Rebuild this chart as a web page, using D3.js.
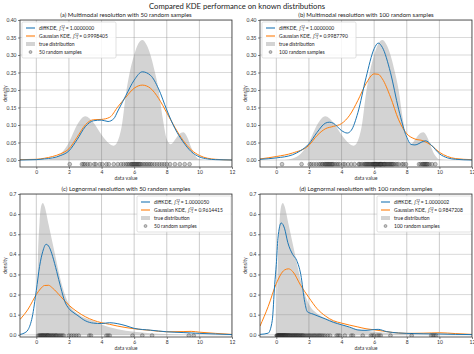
<!DOCTYPE html>
<html>
<head>
<meta charset="utf-8">
<script src="https://cdn.jsdelivr.net/npm/d3@7"></script>
<style>
  body { margin: 0; background: #fff; }
  svg { font-family: Lato, "DejaVu Sans", sans-serif; }
</style>
</head>
<body>
<div id="chart"></div>
<script>
// values, as [data value, density]

const trueMulti = [[-1,0],[0.5,0],[1,0.004],[1.5,0.018],[2,0.05],[2.5,0.1],[3,0.125],[3.5,0.107],[4,0.072],
  [4.5,0.046],[4.75,0.041],[5,0.055],[5.25,0.1],[5.5,0.19],[5.75,0.255],[6,0.3],[6.25,0.332],[6.5,0.343],
  [6.75,0.33],[7,0.3],[7.25,0.255],[7.5,0.2],[7.75,0.12],[8,0.06],[8.25,0.045],[8.5,0.058],[8.75,0.073],
  [9,0.079],[9.25,0.066],[9.5,0.036],[9.75,0.012],[10,0.002],[10.5,0],[12,0]];

const trueLognorm = [[0,0],[0.05,0.2],[0.1,0.38],[0.2,0.56],[0.3,0.64],[0.4,0.655],[0.5,0.64],[0.75,0.55],
  [1,0.455],[1.25,0.36],[1.5,0.27],[1.75,0.2],[2,0.152],[2.5,0.106],[3,0.083],[3.5,0.068],[4,0.051],
  [4.5,0.038],[5,0.028],[6,0.015],[7,0.008],[8,0.004],[9,0.002],[10,0.001],[12,0]];

const diffA = [[-1,0],[0,0.001],[0.5,0.003],[1,0.006],[1.5,0.013],[2,0.026],[2.5,0.058],[3,0.095],[3.5,0.112],
  [4,0.114],[4.4,0.11],[4.75,0.118],[5,0.14],[5.5,0.185],[6,0.228],[6.5,0.252],[7,0.242],[7.5,0.203],
  [8,0.143],[8.5,0.09],[9,0.052],[9.5,0.024],[10,0.009],[10.5,0.003],[11,0.001],[12,0]];
const gaussA = [[-1,0.001],[0,0.002],[0.5,0.005],[1,0.01],[1.5,0.018],[2,0.032],[2.5,0.065],[3,0.1],[3.5,0.115],
  [4,0.116],[4.5,0.122],[5,0.152],[5.5,0.18],[6,0.205],[6.5,0.214],[7,0.205],[7.5,0.176],[8,0.135],
  [8.5,0.093],[9,0.056],[9.5,0.029],[10,0.013],[10.5,0.005],[11,0.002],[12,0]];

const diffB = [[-1,0.002],[0,0.006],[1,0.015],[1.5,0.027],[2,0.046],[2.5,0.079],[3,0.105],[3.25,0.108],[3.5,0.105],
  [4,0.084],[4.35,0.077],[4.6,0.085],[5,0.135],[5.5,0.235],[6,0.318],[6.25,0.334],[6.5,0.322],[7,0.25],
  [7.5,0.145],[8,0.065],[8.25,0.045],[8.5,0.043],[9,0.053],[9.15,0.055],[9.5,0.043],[10,0.018],[10.5,0.006],
  [11,0.002],[12,0]];
const gaussB = [[-1,0.003],[0,0.01],[1,0.02],[2,0.042],[2.5,0.07],[3,0.089],[3.5,0.096],[4,0.104],[4.5,0.128],
  [5,0.17],[5.5,0.218],[6,0.246],[6.25,0.245],[6.5,0.232],[7,0.18],[7.5,0.115],[8,0.075],[8.5,0.06],
  [9,0.055],[9.5,0.042],[10,0.022],[10.5,0.01],[11,0.004],[12,0.001]];

const diffC = [[-1,0.002],[-0.75,0.008],[-0.5,0.026],[-0.25,0.088],[0,0.22],[0.2,0.34],[0.4,0.415],[0.6,0.45],
  [0.8,0.435],[1,0.39],[1.25,0.315],[1.5,0.235],[1.75,0.165],[2,0.13],[2.25,0.112],[2.5,0.098],[3,0.07],
  [3.5,0.058],[4,0.056],[4.5,0.06],[5,0.055],[5.5,0.045],[6,0.032],[7,0.023],[8,0.015],[9,0.011],
  [10,0.007],[11,0.004],[12,0.001]];
const gaussC = [[-1,0.076],[-0.5,0.128],[0,0.2],[0.25,0.228],[0.5,0.245],[0.75,0.246],[1,0.232],[1.5,0.19],
  [2,0.147],[2.5,0.115],[3,0.09],[3.5,0.072],[4,0.06],[4.5,0.052],[5,0.043],[6,0.03],[7,0.022],[8,0.015],
  [9,0.016],[9.5,0.017],[10,0.013],[11,0.007],[12,0.002]];

const diffD = [[-1,0.002],[-0.5,0.008],[-0.25,0.07],[-0.1,0.25],[0,0.35],[0.1,0.48],[0.3,0.556],[0.5,0.53],
  [0.7,0.46],[1,0.4],[1.25,0.37],[1.5,0.3],[1.75,0.16],[1.9,0.115],[2.25,0.103],[2.5,0.095],[3,0.079],
  [3.5,0.062],[4,0.05],[4.5,0.038],[5,0.024],[5.5,0.022],[6,0.026],[6.25,0.027],[6.75,0.016],[7.5,0.009],
  [8,0.007],[9,0.005],[10,0.004],[11,0.002],[12,0.001]];
const gaussD = [[-1,0.043],[-0.5,0.14],[0,0.255],[0.5,0.322],[0.75,0.328],[1,0.315],[1.5,0.245],[2,0.185],
  [2.5,0.13],[3,0.094],[3.5,0.07],[4,0.058],[4.5,0.048],[5,0.039],[5.5,0.03],[6,0.025],[7,0.013],[8,0.007],
  [9,0.008],[10,0.01],[11,0.006],[12,0.002]];

// random samples shown as a rug under each plot
const samplesA = [2.05,2.8,2.9,3.0,3.15,3.3,3.55,3.65,3.9,4.05,4.3,4.45,4.75,5.0,5.2,5.35,5.5,5.6,5.7,5.8,
  5.85,5.9,5.95,6.0,6.05,6.1,6.15,6.2,6.25,6.3,6.35,6.4,6.5,6.6,6.7,6.8,6.9,7.0,7.1,7.25,7.4,7.55,7.7,
  7.85,8.0,8.2,8.5,8.8,9.1,9.4];
const samplesB = [0.35,1.55,2.05,2.15,2.3,2.45,2.6,2.7,2.8,2.85,2.95,3.0,3.05,3.1,3.15,3.2,3.25,3.3,3.35,3.4,
  3.45,3.5,3.6,3.7,3.8,3.9,4.1,4.2,4.4,4.6,4.8,5.05,5.1,5.2,5.3,5.4,5.45,5.5,5.55,5.6,5.65,5.7,5.75,5.8,
  5.85,5.9,5.93,5.96,6.0,6.03,6.06,6.08,6.1,6.13,6.16,6.2,6.23,6.26,6.3,6.33,6.36,6.38,6.4,6.43,6.46,6.5,
  6.55,6.6,6.62,6.65,6.7,6.75,6.8,6.85,6.9,6.95,7.0,7.05,7.1,7.15,7.2,7.3,7.4,7.5,7.7,7.8,7.95,8.75,8.85,
  8.95,9.0,9.05,9.1,9.15,9.2,9.25,9.3,9.4,9.55,9.75];
const samplesC = [0.12,0.18,0.22,0.26,0.3,0.33,0.36,0.4,0.43,0.46,0.5,0.53,0.57,0.6,0.64,0.68,0.7,0.72,0.76,
  0.8,0.85,0.9,0.95,1.0,1.05,1.1,1.17,1.2,1.24,1.3,1.38,1.45,1.52,1.6,1.68,2.0,2.15,2.3,2.45,2.6,3.25,
  3.35,4.3,4.4,4.5,5.9,6.5,7.1,9.35,9.65];
const samplesD = [0.02,0.05,0.08,0.1,0.12,0.14,0.16,0.18,0.2,0.22,0.24,0.26,0.28,0.3,0.32,0.34,0.36,0.38,
  0.4,0.42,0.44,0.46,0.48,0.5,0.52,0.54,0.56,0.58,0.6,0.62,0.65,0.68,0.7,0.72,0.75,0.78,0.8,0.83,0.86,
  0.9,0.93,0.96,1.0,1.03,1.06,1.1,1.13,1.16,1.2,1.23,1.26,1.3,1.33,1.36,1.4,1.44,1.48,1.52,1.56,1.6,
  1.64,1.68,1.75,1.82,1.9,1.98,2.05,2.12,2.2,2.28,2.35,2.42,2.5,2.58,2.65,2.72,2.8,2.89,3.0,3.15,3.3,
  3.7,3.8,3.9,4.2,4.6,4.7,5.3,5.8,5.9,6.0,6.2,6.3,6.4,7.0,8.3,9.5,9.6,9.7,9.8];

const xTicks = [0, 2, 4, 6, 8, 10, 12];
const yTicksMulti = [0, 0.05, 0.1, 0.15, 0.2, 0.25, 0.3, 0.35, 0.4];
const yTicksLog = [0, 0.1, 0.2, 0.3, 0.4, 0.5, 0.6, 0.7];

const panels = [
  {title: "(a) Multimodal resolution with 50 random samples", truth: trueMulti, diff: diffA, gauss: gaussA,
   samples: samplesA, n: 50, diffInt: "1.0000000", gaussInt: "0.9998405", yTicks: yTicksMulti, fmt: ".2f",
   yDom: [-0.02, 0.40], rugY: -0.012, box: [20, 232, 20, 167], legend: "left"},
  {title: "(b) Multimodal resolution with 100 random samples", truth: trueMulti, diff: diffB, gauss: gaussB,
   samples: samplesB, n: 100, diffInt: "1.0000000", gaussInt: "0.9987790", yTicks: yTicksMulti, fmt: ".2f",
   yDom: [-0.02, 0.40], rugY: -0.012, box: [260, 472, 20, 167], legend: "left"},
  {title: "(c) Lognormal resolution with 50 random samples", truth: trueLognorm, diff: diffC, gauss: gaussC,
   samples: samplesC, n: 50, diffInt: "1.0000050", gaussInt: "0.9614415", yTicks: yTicksLog, fmt: ".1f",
   yDom: [-0.011, 0.70], rugY: -0.004, box: [20, 232, 194, 337], legend: "right"},
  {title: "(d) Lognormal resolution with 100 random samples", truth: trueLognorm, diff: diffD, gauss: gaussD,
   samples: samplesD, n: 100, diffInt: "1.0000002", gaussInt: "0.9847208", yTicks: yTicksLog, fmt: ".1f",
   yDom: [-0.011, 0.70], rugY: -0.004, box: [260, 472, 194, 337], legend: "right"}
];

const blue = "#1f77b4";
const orange = "#ff7f0e";
const greyFill = "#d3d3d3";

let svg = d3.select("#chart").append("svg")
  .attr("width", 474).attr("height", 354);

svg.append("text")
  .attr("x", 237).attr("y", 9)
  .attr("text-anchor", "middle")
  .attr("font-size", 8.4)
  .attr("textLength", 176).attr("lengthAdjust", "spacingAndGlyphs")
  .attr("fill", "#222")
  .text("Compared KDE performance on known distributions");

panels.forEach(function(p, i) {
  let [left, right, top, bottom] = p.box;
  let xScale = d3.scaleLinear().domain([-1, 12]).range([left, right]);
  let yScale = d3.scaleLinear().domain(p.yDom).range([bottom, top]);

  let clipId = "clip" + i;
  svg.append("clipPath").attr("id", clipId)
    .append("rect").attr("x", left).attr("y", top)
    .attr("width", right - left).attr("height", bottom - top);

  let g = svg.append("g");
  let plot = g.append("g").attr("clip-path", `url(#${clipId})`);

  // true distribution as a filled area
  let area = d3.area()
    .x(d => xScale(d[0]))
    .y0(yScale(0))
    .y1(d => yScale(d[1]))
    .curve(d3.curveMonotoneX);
  plot.append("path").datum(p.truth)
    .attr("d", area)
    .attr("fill", greyFill);

  // grid lines
  plot.append("g").selectAll("line.gx").data(xTicks).enter().append("line")
    .attr("x1", d => xScale(d)).attr("x2", d => xScale(d))
    .attr("y1", top).attr("y2", bottom)
    .attr("stroke", "#7a7a7a").attr("stroke-opacity", 0.55).attr("stroke-width", 0.7);
  plot.append("g").selectAll("line.gy").data(p.yTicks).enter().append("line")
    .attr("x1", left).attr("x2", right)
    .attr("y1", d => yScale(d)).attr("y2", d => yScale(d))
    .attr("stroke", "#8a8a8a").attr("stroke-opacity", 0.45).attr("stroke-width", 0.7);

  let line = d3.line()
    .x(d => xScale(d[0]))
    .y(d => yScale(d[1]))
    .curve(d3.curveMonotoneX);
  plot.append("path").datum(p.gauss)
    .attr("d", line).attr("fill", "none")
    .attr("stroke", orange).attr("stroke-width", 1);
  plot.append("path").datum(p.diff)
    .attr("d", line).attr("fill", "none")
    .attr("stroke", blue).attr("stroke-width", 1);

  // samples
  plot.append("g").selectAll("circle").data(p.samples).enter().append("circle")
    .attr("cx", d => xScale(d))
    .attr("cy", yScale(p.rugY))
    .attr("r", 1.9)
    .attr("fill", "#666").attr("fill-opacity", 0.35)
    .attr("stroke", "#111").attr("stroke-opacity", 0.55).attr("stroke-width", 0.5);

  // frame
  g.append("rect")
    .attr("x", left).attr("y", top)
    .attr("width", right - left).attr("height", bottom - top)
    .attr("fill", "none").attr("stroke", "#333").attr("stroke-width", 0.8);

  // axes
  let xAxis = d3.axisBottom(xScale).tickValues(xTicks).tickSize(2).tickPadding(1.5);
  let yAxis = d3.axisLeft(yScale).tickValues(p.yTicks).tickSize(2).tickPadding(1.5)
    .tickFormat(d3.format(p.fmt));
  g.append("g").attr("transform", `translate(0, ${bottom})`).call(xAxis);
  g.append("g").attr("transform", `translate(${left}, 0)`).call(yAxis);
  g.selectAll(".domain").remove();
  g.selectAll(".tick line").attr("stroke", "#333").attr("stroke-width", 0.6);
  g.selectAll(".tick text").attr("font-size", 5).attr("fill", "#333")
    .attr("font-family", "Lato, 'DejaVu Sans', sans-serif");

  g.append("text")
    .attr("x", (left + right) / 2).attr("y", bottom + 13)
    .attr("text-anchor", "middle").attr("font-size", 5.2).attr("fill", "#333")
    .text("data value");
  g.append("text")
    .attr("transform", `translate(${left - 13}, ${(top + bottom) / 2}) rotate(-90)`)
    .attr("text-anchor", "middle").attr("font-size", 5.2).attr("fill", "#333")
    .text("density");
  g.append("text")
    .attr("x", (left + right) / 2).attr("y", top - 3)
    .attr("text-anchor", "middle").attr("font-size", 6).attr("fill", "#222")
    .text(p.title);

  // legend
  let lw = 94, lh = 36;
  let lx = p.legend === "left" ? left + 2 : right - lw - 1;
  let ly = top + 2;
  let leg = g.append("g").attr("transform", `translate(${lx}, ${ly})`);
  leg.append("rect")
    .attr("width", lw).attr("height", lh).attr("rx", 1.5)
    .attr("fill", "#fff").attr("fill-opacity", 0.85)
    .attr("stroke", "#ccc").attr("stroke-width", 0.6);

  let rows = [
    {kind: "line", color: blue, name: "diffKDE, ", val: p.diffInt},
    {kind: "line", color: orange, name: "Gaussian KDE, ", val: p.gaussInt},
    {kind: "patch", name: "true distribution"},
    {kind: "dot", name: p.n + " random samples"}
  ];
  rows.forEach(function(r, k) {
    let cy = 6 + k * 8;
    if (r.kind === "line") {
      leg.append("line").attr("x1", 4).attr("x2", 13).attr("y1", cy).attr("y2", cy)
        .attr("stroke", r.color).attr("stroke-width", 1.1);
    } else if (r.kind === "patch") {
      leg.append("rect").attr("x", 4).attr("y", cy - 2).attr("width", 9).attr("height", 4)
        .attr("fill", greyFill);
    } else {
      leg.append("circle").attr("cx", 8.5).attr("cy", cy).attr("r", 1.5)
        .attr("fill", "#666").attr("fill-opacity", 0.4)
        .attr("stroke", "#111").attr("stroke-opacity", 0.55).attr("stroke-width", 0.5);
    }
    let t = leg.append("text").attr("x", 17).attr("y", cy + 1.8)
      .attr("font-size", 5).attr("fill", "#222");
    t.append("tspan").text(r.name);
    if (r.val) {
      t.append("tspan").text("\u222B");
      t.append("tspan").attr("font-size", 3.2).attr("dy", -2).text("12");
      t.append("tspan").attr("font-size", 3.2).attr("dx", -4.3).attr("dy", 3.6).text("\u22121");
      t.append("tspan").attr("dy", -1.6).text(" = " + r.val);
    }
  });
});
</script>
</body>
</html>
